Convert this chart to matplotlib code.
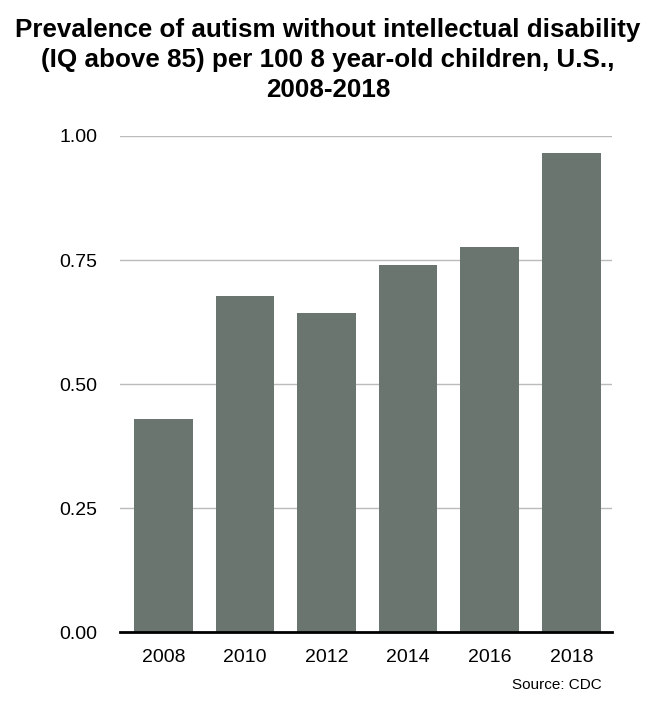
import matplotlib
matplotlib.use("Agg")
from matplotlib import pyplot as plt

years = ['2008', '2010', '2012', '2014', '2016', '2018']
prevalence = [0.43, 0.677, 0.643, 0.739, 0.777, 0.965]
yticks = [0.0, 0.25, 0.5, 0.75, 1.0]
ytick_labels = ['0.00', '0.25', '0.50', '0.75', '1.00']

plt.rcParams['font.family'] = ['Liberation Sans', 'DejaVu Sans']

fig = plt.figure(figsize=(6.56, 7.08), dpi=100)
ax = fig.add_axes([0.183, 0.107, 0.750, 0.701])

ax.bar(range(len(years)), prevalence, width=0.72, color='#6b7570', zorder=2)
ax.set_xlim(-0.53, 5.5)
ax.set_ylim(0, 1.0)
ax.set_yticks(yticks)
ax.set_yticklabels(ytick_labels, fontsize=14)
ax.set_xticks(range(len(years)))
ax.set_xticklabels(years, fontsize=14)
ax.grid(axis='y', color='#bbbbbb', linewidth=1, zorder=0)
ax.set_axisbelow(True)
for s in ['top', 'right', 'left']:
    ax.spines[s].set_visible(False)
ax.spines['bottom'].set_linewidth(2)
ax.spines['bottom'].set_color('black')
ax.spines['bottom'].set_zorder(3)
ax.tick_params(length=0, pad=12)
ax.tick_params(axis='y', pad=16.5)

# title, three lines centred
fig.text(0.5, 1 - 60 / 708, 'Prevalence of autism without intellectual disability\n'
         '(IQ above 85) per 100 8 year-old children, U.S.,\n2008-2018',
         ha='center', va='center', fontsize=18.7, fontweight='bold', linespacing=1.31)
fig.text(0.917, 0.033, 'Source: CDC', ha='right', va='center', fontsize=11)

plt.savefig('out.png', dpi=100)
